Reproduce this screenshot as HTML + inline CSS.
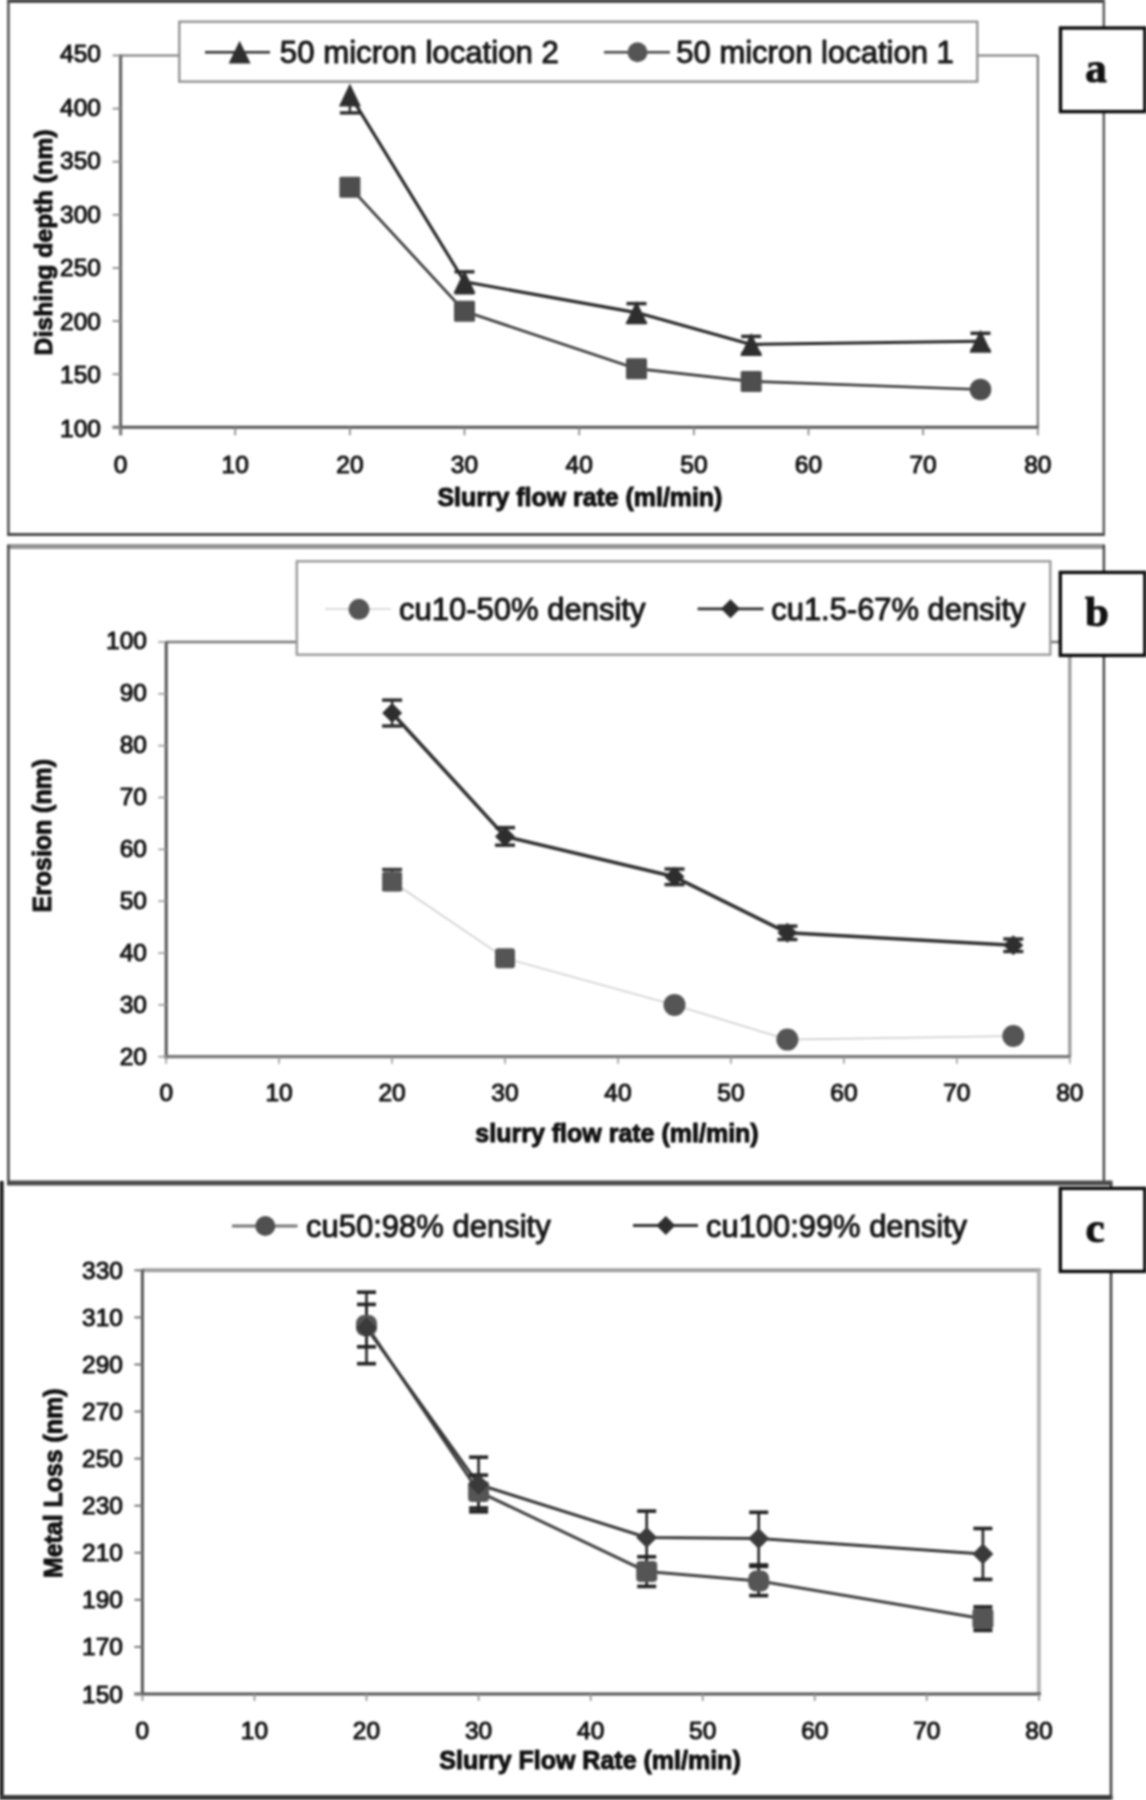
<!DOCTYPE html>
<html lang="en"><head><meta charset="utf-8"><title>Slurry flow rate charts</title>
<style>
html,body{margin:0;padding:0;background:#fff;}
body{width:1146px;height:1800px;overflow:hidden;}
svg{display:block;}
</style></head><body>
<svg width="1146" height="1800" viewBox="0 0 1146 1800">
<rect width="1146" height="1800" fill="#fff"/>
<g style="filter:blur(1px)">
<!-- panel a -->
<line x1="7.0" y1="1.0" x2="1105.0" y2="1.0" stroke="#333" stroke-width="3.5" />
<line x1="8.4" y1="0.0" x2="8.4" y2="535.5" stroke="#555" stroke-width="2.6" />
<line x1="7.0" y1="534.4" x2="1105.0" y2="534.4" stroke="#4a4a4a" stroke-width="3" />
<line x1="1103.8" y1="0.0" x2="1103.8" y2="535.5" stroke="#555" stroke-width="2.4" />
<line x1="120.6" y1="55.5" x2="1037.8" y2="55.5" stroke="#777" stroke-width="2.2" />
<line x1="1037.8" y1="55.5" x2="1037.8" y2="427.3" stroke="#777" stroke-width="2.2" />
<line x1="120.6" y1="54.5" x2="120.6" y2="435.3" stroke="#666" stroke-width="3.2" />
<line x1="112.6" y1="427.3" x2="1038.8" y2="427.3" stroke="#555" stroke-width="3" />
<line x1="112.6" y1="427.3" x2="120.6" y2="427.3" stroke="#8a8a8a" stroke-width="1.8" />
<text x="101.0" y="436.8" font-size="24.5" text-anchor="end" font-weight="normal" font-family='"Liberation Sans", Arial, Helvetica, sans-serif' fill="#111" stroke="#111" stroke-width="1.0" stroke-linejoin="round">100</text>
<line x1="112.6" y1="374.2" x2="120.6" y2="374.2" stroke="#8a8a8a" stroke-width="1.8" />
<text x="101.0" y="383.3" font-size="24.5" text-anchor="end" font-weight="normal" font-family='"Liberation Sans", Arial, Helvetica, sans-serif' fill="#111" stroke="#111" stroke-width="1.0" stroke-linejoin="round">150</text>
<line x1="112.6" y1="321.1" x2="120.6" y2="321.1" stroke="#8a8a8a" stroke-width="1.8" />
<text x="101.0" y="329.9" font-size="24.5" text-anchor="end" font-weight="normal" font-family='"Liberation Sans", Arial, Helvetica, sans-serif' fill="#111" stroke="#111" stroke-width="1.0" stroke-linejoin="round">200</text>
<line x1="112.6" y1="268.0" x2="120.6" y2="268.0" stroke="#8a8a8a" stroke-width="1.8" />
<text x="101.0" y="276.4" font-size="24.5" text-anchor="end" font-weight="normal" font-family='"Liberation Sans", Arial, Helvetica, sans-serif' fill="#111" stroke="#111" stroke-width="1.0" stroke-linejoin="round">250</text>
<line x1="112.6" y1="214.8" x2="120.6" y2="214.8" stroke="#8a8a8a" stroke-width="1.8" />
<text x="101.0" y="222.9" font-size="24.5" text-anchor="end" font-weight="normal" font-family='"Liberation Sans", Arial, Helvetica, sans-serif' fill="#111" stroke="#111" stroke-width="1.0" stroke-linejoin="round">300</text>
<line x1="112.6" y1="161.7" x2="120.6" y2="161.7" stroke="#8a8a8a" stroke-width="1.8" />
<text x="101.0" y="169.4" font-size="24.5" text-anchor="end" font-weight="normal" font-family='"Liberation Sans", Arial, Helvetica, sans-serif' fill="#111" stroke="#111" stroke-width="1.0" stroke-linejoin="round">350</text>
<line x1="112.6" y1="108.6" x2="120.6" y2="108.6" stroke="#8a8a8a" stroke-width="1.8" />
<text x="101.0" y="115.9" font-size="24.5" text-anchor="end" font-weight="normal" font-family='"Liberation Sans", Arial, Helvetica, sans-serif' fill="#111" stroke="#111" stroke-width="1.0" stroke-linejoin="round">400</text>
<line x1="112.6" y1="55.5" x2="120.6" y2="55.5" stroke="#8a8a8a" stroke-width="1.8" />
<text x="101.0" y="62.4" font-size="24.5" text-anchor="end" font-weight="normal" font-family='"Liberation Sans", Arial, Helvetica, sans-serif' fill="#111" stroke="#111" stroke-width="1.0" stroke-linejoin="round">450</text>
<line x1="120.6" y1="427.3" x2="120.6" y2="435.3" stroke="#8a8a8a" stroke-width="1.8" />
<text x="120.6" y="473.0" font-size="24.5" text-anchor="middle" font-weight="normal" font-family='"Liberation Sans", Arial, Helvetica, sans-serif' fill="#111" stroke="#111" stroke-width="1.0" stroke-linejoin="round">0</text>
<line x1="235.2" y1="427.3" x2="235.2" y2="435.3" stroke="#8a8a8a" stroke-width="1.8" />
<text x="235.2" y="473.0" font-size="24.5" text-anchor="middle" font-weight="normal" font-family='"Liberation Sans", Arial, Helvetica, sans-serif' fill="#111" stroke="#111" stroke-width="1.0" stroke-linejoin="round">10</text>
<line x1="349.9" y1="427.3" x2="349.9" y2="435.3" stroke="#8a8a8a" stroke-width="1.8" />
<text x="349.9" y="473.0" font-size="24.5" text-anchor="middle" font-weight="normal" font-family='"Liberation Sans", Arial, Helvetica, sans-serif' fill="#111" stroke="#111" stroke-width="1.0" stroke-linejoin="round">20</text>
<line x1="464.5" y1="427.3" x2="464.5" y2="435.3" stroke="#8a8a8a" stroke-width="1.8" />
<text x="464.5" y="473.0" font-size="24.5" text-anchor="middle" font-weight="normal" font-family='"Liberation Sans", Arial, Helvetica, sans-serif' fill="#111" stroke="#111" stroke-width="1.0" stroke-linejoin="round">30</text>
<line x1="579.2" y1="427.3" x2="579.2" y2="435.3" stroke="#8a8a8a" stroke-width="1.8" />
<text x="579.2" y="473.0" font-size="24.5" text-anchor="middle" font-weight="normal" font-family='"Liberation Sans", Arial, Helvetica, sans-serif' fill="#111" stroke="#111" stroke-width="1.0" stroke-linejoin="round">40</text>
<line x1="693.9" y1="427.3" x2="693.9" y2="435.3" stroke="#8a8a8a" stroke-width="1.8" />
<text x="693.9" y="473.0" font-size="24.5" text-anchor="middle" font-weight="normal" font-family='"Liberation Sans", Arial, Helvetica, sans-serif' fill="#111" stroke="#111" stroke-width="1.0" stroke-linejoin="round">50</text>
<line x1="808.5" y1="427.3" x2="808.5" y2="435.3" stroke="#8a8a8a" stroke-width="1.8" />
<text x="808.5" y="473.0" font-size="24.5" text-anchor="middle" font-weight="normal" font-family='"Liberation Sans", Arial, Helvetica, sans-serif' fill="#111" stroke="#111" stroke-width="1.0" stroke-linejoin="round">60</text>
<line x1="923.1" y1="427.3" x2="923.1" y2="435.3" stroke="#8a8a8a" stroke-width="1.8" />
<text x="923.1" y="473.0" font-size="24.5" text-anchor="middle" font-weight="normal" font-family='"Liberation Sans", Arial, Helvetica, sans-serif' fill="#111" stroke="#111" stroke-width="1.0" stroke-linejoin="round">70</text>
<line x1="1037.8" y1="427.3" x2="1037.8" y2="435.3" stroke="#8a8a8a" stroke-width="1.8" />
<text x="1037.8" y="473.0" font-size="24.5" text-anchor="middle" font-weight="normal" font-family='"Liberation Sans", Arial, Helvetica, sans-serif' fill="#111" stroke="#111" stroke-width="1.0" stroke-linejoin="round">80</text>
<text transform="translate(52.0,242.5) rotate(-90)" font-size="24.8" text-anchor="middle" font-weight="bold" font-family='"Liberation Sans", Arial, Helvetica, sans-serif' fill="#111" stroke="#111" stroke-width="1.0" stroke-linejoin="round">Dishing depth (nm)</text>
<text x="579.9" y="506.0" font-size="24.9" text-anchor="middle" font-weight="bold" font-family='"Liberation Sans", Arial, Helvetica, sans-serif' fill="#111" stroke="#111" stroke-width="1.0" stroke-linejoin="round">Slurry flow rate (ml/min)</text>
<polyline points="349.9,187.2 464.5,311.3 636.5,368.7 751.2,381.4 980.5,389.5" fill="none" stroke="#3a3a3a" stroke-width="2.7" stroke-linejoin="round"/>
<polyline points="349.9,94.9 464.5,281.8 636.5,312.6 751.2,344.4 980.5,341.3" fill="none" stroke="#262626" stroke-width="3.1" stroke-linejoin="round"/>
<line x1="349.9" y1="94.9" x2="349.9" y2="112.9" stroke="#2a2a2a" stroke-width="2.4" />
<line x1="339.9" y1="112.9" x2="359.9" y2="112.9" stroke="#2a2a2a" stroke-width="3.4" />
<line x1="464.5" y1="271.8" x2="464.5" y2="292.8" stroke="#2a2a2a" stroke-width="2.4" />
<line x1="454.5" y1="271.8" x2="474.5" y2="271.8" stroke="#2a2a2a" stroke-width="3.4" />
<line x1="454.5" y1="292.8" x2="474.5" y2="292.8" stroke="#2a2a2a" stroke-width="3.4" />
<line x1="636.5" y1="303.6" x2="636.5" y2="322.6" stroke="#2a2a2a" stroke-width="2.4" />
<line x1="626.5" y1="303.6" x2="646.5" y2="303.6" stroke="#2a2a2a" stroke-width="3.4" />
<line x1="626.5" y1="322.6" x2="646.5" y2="322.6" stroke="#2a2a2a" stroke-width="3.4" />
<line x1="751.2" y1="336.4" x2="751.2" y2="353.4" stroke="#2a2a2a" stroke-width="2.4" />
<line x1="741.2" y1="336.4" x2="761.2" y2="336.4" stroke="#2a2a2a" stroke-width="3.4" />
<line x1="741.2" y1="353.4" x2="761.2" y2="353.4" stroke="#2a2a2a" stroke-width="3.4" />
<line x1="980.5" y1="333.3" x2="980.5" y2="350.3" stroke="#2a2a2a" stroke-width="2.4" />
<line x1="970.5" y1="333.3" x2="990.5" y2="333.3" stroke="#2a2a2a" stroke-width="3.4" />
<line x1="970.5" y1="350.3" x2="990.5" y2="350.3" stroke="#2a2a2a" stroke-width="3.4" />
<rect x="339.4" y="176.7" width="21.0" height="21.0" fill="#4e4e4e" stroke="none" stroke-width="0" rx="1.5"/>
<rect x="454.0" y="300.8" width="21.0" height="21.0" fill="#4e4e4e" stroke="none" stroke-width="0" rx="1.5"/>
<rect x="626.0" y="358.2" width="21.0" height="21.0" fill="#4e4e4e" stroke="none" stroke-width="0" rx="1.5"/>
<rect x="740.7" y="370.9" width="21.0" height="21.0" fill="#4e4e4e" stroke="none" stroke-width="0" rx="1.5"/>
<circle cx="980.5" cy="389.5" r="10.8" fill="#4e4e4e"/>
<polygon points="349.9,83.5 360.9,106.4 338.9,106.4" fill="#2e2e2e"/>
<polygon points="464.5,270.3 475.5,293.2 453.5,293.2" fill="#2e2e2e"/>
<polygon points="636.5,301.1 647.5,324.0 625.5,324.0" fill="#2e2e2e"/>
<polygon points="751.2,333.0 762.2,355.9 740.2,355.9" fill="#2e2e2e"/>
<polygon points="980.5,329.8 991.5,352.7 969.5,352.7" fill="#2e2e2e"/>
<rect x="179.3" y="21.7" width="798.0" height="59.9" fill="#fff" stroke="#8a8a8a" stroke-width="2.2" rx="0"/>
<line x1="205.0" y1="52.2" x2="270.0" y2="52.2" stroke="#2e2e2e" stroke-width="2.6" />
<polygon points="239.6,40.8 250.6,63.6 228.6,63.6" fill="#2e2e2e"/>
<text x="279.8" y="62.9" font-size="31.2" text-anchor="start" font-weight="normal" font-family='"Liberation Sans", Arial, Helvetica, sans-serif' fill="#1c1c1c" stroke="#111" stroke-width="1.0" stroke-linejoin="round">50 micron location 2</text>
<line x1="604.0" y1="52.2" x2="670.0" y2="52.2" stroke="#444" stroke-width="2.6" />
<circle cx="637.5" cy="52.2" r="10" fill="#555"/>
<text x="676.3" y="62.9" font-size="31.0" text-anchor="start" font-weight="normal" font-family='"Liberation Sans", Arial, Helvetica, sans-serif' fill="#1c1c1c" stroke="#111" stroke-width="1.0" stroke-linejoin="round">50 micron location 1</text>
<rect x="1060.5" y="28.0" width="84.4" height="83.6" fill="#fff" stroke="#0a0a0a" stroke-width="3.4" rx="0"/>
<text x="1096.0" y="82.0" font-size="43" text-anchor="middle" font-weight="bold" font-family='"Liberation Serif", "Times New Roman", serif' fill="#111" stroke="#111" stroke-width="1.0" stroke-linejoin="round">a</text>
<!-- panel b -->
<line x1="7.0" y1="546.6" x2="1105.0" y2="546.6" stroke="#959595" stroke-width="5" />
<line x1="8.4" y1="545.0" x2="8.4" y2="1183.0" stroke="#4a4a4a" stroke-width="2.6" />
<line x1="1103.9" y1="545.0" x2="1103.9" y2="1183.0" stroke="#444" stroke-width="2.4" />
<line x1="7.0" y1="1183.0" x2="1112.5" y2="1183.0" stroke="#4a4a4a" stroke-width="5" />
<line x1="166.2" y1="642.0" x2="1069.8" y2="642.0" stroke="#777" stroke-width="2.4" />
<line x1="1069.8" y1="642.0" x2="1069.8" y2="1056.7" stroke="#999" stroke-width="3.2" />
<line x1="166.2" y1="641.0" x2="166.2" y2="1058.7" stroke="#555" stroke-width="3" />
<line x1="164.2" y1="1056.7" x2="1070.8" y2="1056.7" stroke="#777" stroke-width="3.2" />
<line x1="158.2" y1="1056.7" x2="166.2" y2="1056.7" stroke="#999" stroke-width="1.6" />
<text x="147.0" y="1065.3" font-size="24.5" text-anchor="end" font-weight="normal" font-family='"Liberation Sans", Arial, Helvetica, sans-serif' fill="#111" stroke="#111" stroke-width="1.0" stroke-linejoin="round">20</text>
<line x1="158.2" y1="1004.9" x2="166.2" y2="1004.9" stroke="#999" stroke-width="1.6" />
<text x="147.0" y="1013.3" font-size="24.5" text-anchor="end" font-weight="normal" font-family='"Liberation Sans", Arial, Helvetica, sans-serif' fill="#111" stroke="#111" stroke-width="1.0" stroke-linejoin="round">30</text>
<line x1="158.2" y1="953.0" x2="166.2" y2="953.0" stroke="#999" stroke-width="1.6" />
<text x="147.0" y="961.2" font-size="24.5" text-anchor="end" font-weight="normal" font-family='"Liberation Sans", Arial, Helvetica, sans-serif' fill="#111" stroke="#111" stroke-width="1.0" stroke-linejoin="round">40</text>
<line x1="158.2" y1="901.2" x2="166.2" y2="901.2" stroke="#999" stroke-width="1.6" />
<text x="147.0" y="909.2" font-size="24.5" text-anchor="end" font-weight="normal" font-family='"Liberation Sans", Arial, Helvetica, sans-serif' fill="#111" stroke="#111" stroke-width="1.0" stroke-linejoin="round">50</text>
<line x1="158.2" y1="849.4" x2="166.2" y2="849.4" stroke="#999" stroke-width="1.6" />
<text x="147.0" y="857.2" font-size="24.5" text-anchor="end" font-weight="normal" font-family='"Liberation Sans", Arial, Helvetica, sans-serif' fill="#111" stroke="#111" stroke-width="1.0" stroke-linejoin="round">60</text>
<line x1="158.2" y1="797.5" x2="166.2" y2="797.5" stroke="#999" stroke-width="1.6" />
<text x="147.0" y="805.2" font-size="24.5" text-anchor="end" font-weight="normal" font-family='"Liberation Sans", Arial, Helvetica, sans-serif' fill="#111" stroke="#111" stroke-width="1.0" stroke-linejoin="round">70</text>
<line x1="158.2" y1="745.7" x2="166.2" y2="745.7" stroke="#999" stroke-width="1.6" />
<text x="147.0" y="753.1" font-size="24.5" text-anchor="end" font-weight="normal" font-family='"Liberation Sans", Arial, Helvetica, sans-serif' fill="#111" stroke="#111" stroke-width="1.0" stroke-linejoin="round">80</text>
<line x1="158.2" y1="693.8" x2="166.2" y2="693.8" stroke="#999" stroke-width="1.6" />
<text x="147.0" y="701.1" font-size="24.5" text-anchor="end" font-weight="normal" font-family='"Liberation Sans", Arial, Helvetica, sans-serif' fill="#111" stroke="#111" stroke-width="1.0" stroke-linejoin="round">90</text>
<line x1="158.2" y1="642.0" x2="166.2" y2="642.0" stroke="#999" stroke-width="1.6" />
<text x="147.0" y="649.1" font-size="24.5" text-anchor="end" font-weight="normal" font-family='"Liberation Sans", Arial, Helvetica, sans-serif' fill="#111" stroke="#111" stroke-width="1.0" stroke-linejoin="round">100</text>
<line x1="166.2" y1="1056.7" x2="166.2" y2="1063.7" stroke="#999" stroke-width="1.6" />
<text x="166.2" y="1100.5" font-size="24.5" text-anchor="middle" font-weight="normal" font-family='"Liberation Sans", Arial, Helvetica, sans-serif' fill="#111" stroke="#111" stroke-width="1.0" stroke-linejoin="round">0</text>
<line x1="279.1" y1="1056.7" x2="279.1" y2="1063.7" stroke="#999" stroke-width="1.6" />
<text x="279.1" y="1100.5" font-size="24.5" text-anchor="middle" font-weight="normal" font-family='"Liberation Sans", Arial, Helvetica, sans-serif' fill="#111" stroke="#111" stroke-width="1.0" stroke-linejoin="round">10</text>
<line x1="392.1" y1="1056.7" x2="392.1" y2="1063.7" stroke="#999" stroke-width="1.6" />
<text x="392.1" y="1100.5" font-size="24.5" text-anchor="middle" font-weight="normal" font-family='"Liberation Sans", Arial, Helvetica, sans-serif' fill="#111" stroke="#111" stroke-width="1.0" stroke-linejoin="round">20</text>
<line x1="505.0" y1="1056.7" x2="505.0" y2="1063.7" stroke="#999" stroke-width="1.6" />
<text x="505.0" y="1100.5" font-size="24.5" text-anchor="middle" font-weight="normal" font-family='"Liberation Sans", Arial, Helvetica, sans-serif' fill="#111" stroke="#111" stroke-width="1.0" stroke-linejoin="round">30</text>
<line x1="618.0" y1="1056.7" x2="618.0" y2="1063.7" stroke="#999" stroke-width="1.6" />
<text x="618.0" y="1100.5" font-size="24.5" text-anchor="middle" font-weight="normal" font-family='"Liberation Sans", Arial, Helvetica, sans-serif' fill="#111" stroke="#111" stroke-width="1.0" stroke-linejoin="round">40</text>
<line x1="730.9" y1="1056.7" x2="730.9" y2="1063.7" stroke="#999" stroke-width="1.6" />
<text x="730.9" y="1100.5" font-size="24.5" text-anchor="middle" font-weight="normal" font-family='"Liberation Sans", Arial, Helvetica, sans-serif' fill="#111" stroke="#111" stroke-width="1.0" stroke-linejoin="round">50</text>
<line x1="843.9" y1="1056.7" x2="843.9" y2="1063.7" stroke="#999" stroke-width="1.6" />
<text x="843.9" y="1100.5" font-size="24.5" text-anchor="middle" font-weight="normal" font-family='"Liberation Sans", Arial, Helvetica, sans-serif' fill="#111" stroke="#111" stroke-width="1.0" stroke-linejoin="round">60</text>
<line x1="956.8" y1="1056.7" x2="956.8" y2="1063.7" stroke="#999" stroke-width="1.6" />
<text x="956.8" y="1100.5" font-size="24.5" text-anchor="middle" font-weight="normal" font-family='"Liberation Sans", Arial, Helvetica, sans-serif' fill="#111" stroke="#111" stroke-width="1.0" stroke-linejoin="round">70</text>
<line x1="1069.8" y1="1056.7" x2="1069.8" y2="1063.7" stroke="#999" stroke-width="1.6" />
<text x="1069.8" y="1100.5" font-size="24.5" text-anchor="middle" font-weight="normal" font-family='"Liberation Sans", Arial, Helvetica, sans-serif' fill="#111" stroke="#111" stroke-width="1.0" stroke-linejoin="round">80</text>
<text transform="translate(50.5,835.7) rotate(-90)" font-size="24.9" text-anchor="middle" font-weight="bold" font-family='"Liberation Sans", Arial, Helvetica, sans-serif' fill="#111" stroke="#111" stroke-width="1.0" stroke-linejoin="round">Erosion (nm)</text>
<text x="617.0" y="1142.3" font-size="25.0" text-anchor="middle" font-weight="bold" font-family='"Liberation Sans", Arial, Helvetica, sans-serif' fill="#111" stroke="#111" stroke-width="1.0" stroke-linejoin="round">slurry flow rate (ml/min)</text>
<polyline points="392.1,881.5 505.0,958.2 674.5,1004.9 787.4,1039.6 1013.3,1036.0" fill="none" stroke="#cfcfcf" stroke-width="1.6" stroke-linejoin="round"/>
<polyline points="392.1,713.0 505.0,836.4 674.5,876.8 787.4,932.8 1013.3,945.2" fill="none" stroke="#2e2e2e" stroke-width="3.6" stroke-linejoin="round"/>
<line x1="392.1" y1="726.0" x2="392.1" y2="700.1" stroke="#2a2a2a" stroke-width="2.4" />
<line x1="382.1" y1="726.0" x2="402.1" y2="726.0" stroke="#2a2a2a" stroke-width="3.4" />
<line x1="382.1" y1="700.1" x2="402.1" y2="700.1" stroke="#2a2a2a" stroke-width="3.4" />
<line x1="505.0" y1="845.2" x2="505.0" y2="827.6" stroke="#2a2a2a" stroke-width="2.4" />
<line x1="495.0" y1="845.2" x2="515.0" y2="845.2" stroke="#2a2a2a" stroke-width="3.4" />
<line x1="495.0" y1="827.6" x2="515.0" y2="827.6" stroke="#2a2a2a" stroke-width="3.4" />
<line x1="674.5" y1="884.6" x2="674.5" y2="869.0" stroke="#2a2a2a" stroke-width="2.4" />
<line x1="664.5" y1="884.6" x2="684.5" y2="884.6" stroke="#2a2a2a" stroke-width="3.4" />
<line x1="664.5" y1="869.0" x2="684.5" y2="869.0" stroke="#2a2a2a" stroke-width="3.4" />
<line x1="787.4" y1="939.5" x2="787.4" y2="926.1" stroke="#2a2a2a" stroke-width="2.4" />
<line x1="777.4" y1="939.5" x2="797.4" y2="939.5" stroke="#2a2a2a" stroke-width="3.4" />
<line x1="777.4" y1="926.1" x2="797.4" y2="926.1" stroke="#2a2a2a" stroke-width="3.4" />
<line x1="1013.3" y1="951.5" x2="1013.3" y2="939.0" stroke="#2a2a2a" stroke-width="2.4" />
<line x1="1003.3" y1="951.5" x2="1023.3" y2="951.5" stroke="#2a2a2a" stroke-width="3.4" />
<line x1="1003.3" y1="939.0" x2="1023.3" y2="939.0" stroke="#2a2a2a" stroke-width="3.4" />
<line x1="392.1" y1="869.5" x2="392.1" y2="889.5" stroke="#3a3a3a" stroke-width="2.4" />
<line x1="382.1" y1="869.5" x2="402.1" y2="869.5" stroke="#3a3a3a" stroke-width="3.4" />
<line x1="382.1" y1="889.5" x2="402.1" y2="889.5" stroke="#3a3a3a" stroke-width="3.4" />
<rect x="382.1" y="871.5" width="20.0" height="20.0" fill="#555" stroke="none" stroke-width="0" rx="3"/>
<rect x="495.0" y="948.2" width="20.0" height="20.0" fill="#555" stroke="none" stroke-width="0" rx="3"/>
<circle cx="674.5" cy="1004.9" r="11" fill="#555"/>
<circle cx="787.4" cy="1039.6" r="11" fill="#555"/>
<circle cx="1013.3" cy="1036.0" r="11" fill="#555"/>
<polygon points="392.1,703.0 402.1,713.0 392.1,723.0 382.1,713.0" fill="#2e2e2e"/>
<polygon points="505.0,826.4 515.0,836.4 505.0,846.4 495.0,836.4" fill="#2e2e2e"/>
<polygon points="674.5,866.8 684.5,876.8 674.5,886.8 664.5,876.8" fill="#2e2e2e"/>
<polygon points="787.4,922.8 797.4,932.8 787.4,942.8 777.4,932.8" fill="#2e2e2e"/>
<polygon points="1013.3,935.2 1023.3,945.2 1013.3,955.2 1003.3,945.2" fill="#2e2e2e"/>
<rect x="296.8" y="561.3" width="753.5" height="93.4" fill="#fff" stroke="#9a9a9a" stroke-width="2.4" rx="0"/>
<line x1="325.0" y1="609.0" x2="391.0" y2="609.0" stroke="#dcdcdc" stroke-width="2" />
<circle cx="359.0" cy="609.3" r="10.5" fill="#555"/>
<text x="399.0" y="619.6" font-size="31.0" text-anchor="start" font-weight="normal" font-family='"Liberation Sans", Arial, Helvetica, sans-serif' fill="#1c1c1c" stroke="#111" stroke-width="1.0" stroke-linejoin="round">cu10-50% density</text>
<line x1="697.6" y1="608.8" x2="763.5" y2="608.8" stroke="#2e2e2e" stroke-width="2.8" />
<polygon points="730.5,599.3 740.0,608.8 730.5,618.3 721.0,608.8" fill="#2e2e2e"/>
<text x="771.3" y="619.6" font-size="30.9" text-anchor="start" font-weight="normal" font-family='"Liberation Sans", Arial, Helvetica, sans-serif' fill="#1c1c1c" stroke="#111" stroke-width="1.0" stroke-linejoin="round">cu1.5-67% density</text>
<rect x="1060.3" y="572.4" width="84.6" height="83.0" fill="#fff" stroke="#0a0a0a" stroke-width="3.4" rx="0"/>
<text x="1097.0" y="626.0" font-size="43" text-anchor="middle" font-weight="bold" font-family='"Liberation Serif", "Times New Roman", serif' fill="#111" stroke="#111" stroke-width="1.0" stroke-linejoin="round">b</text>
<!-- panel c -->
<line x1="1.6" y1="1181.0" x2="1.6" y2="1800.0" stroke="#222" stroke-width="4.2" />
<line x1="0.0" y1="1797.5" x2="1112.5" y2="1797.5" stroke="#3a3a3a" stroke-width="5" />
<line x1="1111.0" y1="1183.0" x2="1111.0" y2="1800.0" stroke="#444" stroke-width="2.6" />
<line x1="142.4" y1="1270.3" x2="1040.9" y2="1270.3" stroke="#a0a0a0" stroke-width="4" />
<line x1="1038.9" y1="1270.3" x2="1038.9" y2="1694.0" stroke="#b8b8b8" stroke-width="4" />
<line x1="142.4" y1="1269.3" x2="142.4" y2="1696.0" stroke="#555" stroke-width="3" />
<line x1="134.4" y1="1694.0" x2="1040.9" y2="1694.0" stroke="#555" stroke-width="3" />
<line x1="134.4" y1="1694.0" x2="142.4" y2="1694.0" stroke="#777" stroke-width="2" />
<text x="123.0" y="1702.5" font-size="24.5" text-anchor="end" font-weight="normal" font-family='"Liberation Sans", Arial, Helvetica, sans-serif' fill="#111" stroke="#111" stroke-width="1.0" stroke-linejoin="round">150</text>
<line x1="134.4" y1="1646.9" x2="142.4" y2="1646.9" stroke="#777" stroke-width="2" />
<text x="123.0" y="1655.4" font-size="24.5" text-anchor="end" font-weight="normal" font-family='"Liberation Sans", Arial, Helvetica, sans-serif' fill="#111" stroke="#111" stroke-width="1.0" stroke-linejoin="round">170</text>
<line x1="134.4" y1="1599.8" x2="142.4" y2="1599.8" stroke="#777" stroke-width="2" />
<text x="123.0" y="1608.3" font-size="24.5" text-anchor="end" font-weight="normal" font-family='"Liberation Sans", Arial, Helvetica, sans-serif' fill="#111" stroke="#111" stroke-width="1.0" stroke-linejoin="round">190</text>
<line x1="134.4" y1="1552.8" x2="142.4" y2="1552.8" stroke="#777" stroke-width="2" />
<text x="123.0" y="1561.3" font-size="24.5" text-anchor="end" font-weight="normal" font-family='"Liberation Sans", Arial, Helvetica, sans-serif' fill="#111" stroke="#111" stroke-width="1.0" stroke-linejoin="round">210</text>
<line x1="134.4" y1="1505.7" x2="142.4" y2="1505.7" stroke="#777" stroke-width="2" />
<text x="123.0" y="1514.2" font-size="24.5" text-anchor="end" font-weight="normal" font-family='"Liberation Sans", Arial, Helvetica, sans-serif' fill="#111" stroke="#111" stroke-width="1.0" stroke-linejoin="round">230</text>
<line x1="134.4" y1="1458.6" x2="142.4" y2="1458.6" stroke="#777" stroke-width="2" />
<text x="123.0" y="1467.1" font-size="24.5" text-anchor="end" font-weight="normal" font-family='"Liberation Sans", Arial, Helvetica, sans-serif' fill="#111" stroke="#111" stroke-width="1.0" stroke-linejoin="round">250</text>
<line x1="134.4" y1="1411.5" x2="142.4" y2="1411.5" stroke="#777" stroke-width="2" />
<text x="123.0" y="1420.0" font-size="24.5" text-anchor="end" font-weight="normal" font-family='"Liberation Sans", Arial, Helvetica, sans-serif' fill="#111" stroke="#111" stroke-width="1.0" stroke-linejoin="round">270</text>
<line x1="134.4" y1="1364.5" x2="142.4" y2="1364.5" stroke="#777" stroke-width="2" />
<text x="123.0" y="1373.0" font-size="24.5" text-anchor="end" font-weight="normal" font-family='"Liberation Sans", Arial, Helvetica, sans-serif' fill="#111" stroke="#111" stroke-width="1.0" stroke-linejoin="round">290</text>
<line x1="134.4" y1="1317.4" x2="142.4" y2="1317.4" stroke="#777" stroke-width="2" />
<text x="123.0" y="1325.9" font-size="24.5" text-anchor="end" font-weight="normal" font-family='"Liberation Sans", Arial, Helvetica, sans-serif' fill="#111" stroke="#111" stroke-width="1.0" stroke-linejoin="round">310</text>
<line x1="134.4" y1="1270.3" x2="142.4" y2="1270.3" stroke="#777" stroke-width="2" />
<text x="123.0" y="1278.8" font-size="24.5" text-anchor="end" font-weight="normal" font-family='"Liberation Sans", Arial, Helvetica, sans-serif' fill="#111" stroke="#111" stroke-width="1.0" stroke-linejoin="round">330</text>
<line x1="142.4" y1="1694.0" x2="142.4" y2="1701.0" stroke="#999" stroke-width="1.8" />
<text x="142.4" y="1738.5" font-size="24.5" text-anchor="middle" font-weight="normal" font-family='"Liberation Sans", Arial, Helvetica, sans-serif' fill="#111" stroke="#111" stroke-width="1.0" stroke-linejoin="round">0</text>
<line x1="254.5" y1="1694.0" x2="254.5" y2="1701.0" stroke="#999" stroke-width="1.8" />
<text x="254.5" y="1738.5" font-size="24.5" text-anchor="middle" font-weight="normal" font-family='"Liberation Sans", Arial, Helvetica, sans-serif' fill="#111" stroke="#111" stroke-width="1.0" stroke-linejoin="round">10</text>
<line x1="366.5" y1="1694.0" x2="366.5" y2="1701.0" stroke="#999" stroke-width="1.8" />
<text x="366.5" y="1738.5" font-size="24.5" text-anchor="middle" font-weight="normal" font-family='"Liberation Sans", Arial, Helvetica, sans-serif' fill="#111" stroke="#111" stroke-width="1.0" stroke-linejoin="round">20</text>
<line x1="478.6" y1="1694.0" x2="478.6" y2="1701.0" stroke="#999" stroke-width="1.8" />
<text x="478.6" y="1738.5" font-size="24.5" text-anchor="middle" font-weight="normal" font-family='"Liberation Sans", Arial, Helvetica, sans-serif' fill="#111" stroke="#111" stroke-width="1.0" stroke-linejoin="round">30</text>
<line x1="590.7" y1="1694.0" x2="590.7" y2="1701.0" stroke="#999" stroke-width="1.8" />
<text x="590.7" y="1738.5" font-size="24.5" text-anchor="middle" font-weight="normal" font-family='"Liberation Sans", Arial, Helvetica, sans-serif' fill="#111" stroke="#111" stroke-width="1.0" stroke-linejoin="round">40</text>
<line x1="702.7" y1="1694.0" x2="702.7" y2="1701.0" stroke="#999" stroke-width="1.8" />
<text x="702.7" y="1738.5" font-size="24.5" text-anchor="middle" font-weight="normal" font-family='"Liberation Sans", Arial, Helvetica, sans-serif' fill="#111" stroke="#111" stroke-width="1.0" stroke-linejoin="round">50</text>
<line x1="814.8" y1="1694.0" x2="814.8" y2="1701.0" stroke="#999" stroke-width="1.8" />
<text x="814.8" y="1738.5" font-size="24.5" text-anchor="middle" font-weight="normal" font-family='"Liberation Sans", Arial, Helvetica, sans-serif' fill="#111" stroke="#111" stroke-width="1.0" stroke-linejoin="round">60</text>
<line x1="926.8" y1="1694.0" x2="926.8" y2="1701.0" stroke="#999" stroke-width="1.8" />
<text x="926.8" y="1738.5" font-size="24.5" text-anchor="middle" font-weight="normal" font-family='"Liberation Sans", Arial, Helvetica, sans-serif' fill="#111" stroke="#111" stroke-width="1.0" stroke-linejoin="round">70</text>
<line x1="1038.9" y1="1694.0" x2="1038.9" y2="1701.0" stroke="#999" stroke-width="1.8" />
<text x="1038.9" y="1738.5" font-size="24.5" text-anchor="middle" font-weight="normal" font-family='"Liberation Sans", Arial, Helvetica, sans-serif' fill="#111" stroke="#111" stroke-width="1.0" stroke-linejoin="round">80</text>
<text transform="translate(62.0,1483.3) rotate(-90)" font-size="24.9" text-anchor="middle" font-weight="bold" font-family='"Liberation Sans", Arial, Helvetica, sans-serif' fill="#111" stroke="#111" stroke-width="1.0" stroke-linejoin="round">Metal Loss (nm)</text>
<text x="590.0" y="1768.5" font-size="25.0" text-anchor="middle" font-weight="bold" font-family='"Liberation Sans", Arial, Helvetica, sans-serif' fill="#111" stroke="#111" stroke-width="1.0" stroke-linejoin="round">Slurry Flow Rate (ml/min)</text>
<polyline points="366.5,1325.6 478.6,1491.6 646.7,1571.6 758.7,1581.0 982.9,1618.7" fill="none" stroke="#404040" stroke-width="3.0" stroke-linejoin="round"/>
<polyline points="366.5,1328.0 478.6,1484.5 646.7,1537.5 758.7,1538.6 982.9,1553.9" fill="none" stroke="#363636" stroke-width="3.0" stroke-linejoin="round"/>
<line x1="366.5" y1="1292.2" x2="366.5" y2="1363.7" stroke="#222" stroke-width="2.6" />
<line x1="357.0" y1="1292.2" x2="376.0" y2="1292.2" stroke="#222" stroke-width="3.6" />
<line x1="357.0" y1="1363.7" x2="376.0" y2="1363.7" stroke="#222" stroke-width="3.6" />
<line x1="478.6" y1="1457.2" x2="478.6" y2="1511.8" stroke="#222" stroke-width="2.6" />
<line x1="469.1" y1="1457.2" x2="488.1" y2="1457.2" stroke="#222" stroke-width="3.6" />
<line x1="469.1" y1="1511.8" x2="488.1" y2="1511.8" stroke="#222" stroke-width="3.6" />
<line x1="646.7" y1="1511.1" x2="646.7" y2="1563.8" stroke="#222" stroke-width="2.6" />
<line x1="637.2" y1="1511.1" x2="656.2" y2="1511.1" stroke="#222" stroke-width="3.6" />
<line x1="637.2" y1="1563.8" x2="656.2" y2="1563.8" stroke="#222" stroke-width="3.6" />
<line x1="758.7" y1="1512.3" x2="758.7" y2="1565.0" stroke="#222" stroke-width="2.6" />
<line x1="749.2" y1="1512.3" x2="768.2" y2="1512.3" stroke="#222" stroke-width="3.6" />
<line x1="749.2" y1="1565.0" x2="768.2" y2="1565.0" stroke="#222" stroke-width="3.6" />
<line x1="982.9" y1="1528.5" x2="982.9" y2="1579.4" stroke="#222" stroke-width="2.6" />
<line x1="973.4" y1="1528.5" x2="992.4" y2="1528.5" stroke="#222" stroke-width="3.6" />
<line x1="973.4" y1="1579.4" x2="992.4" y2="1579.4" stroke="#222" stroke-width="3.6" />
<line x1="366.5" y1="1304.4" x2="366.5" y2="1346.8" stroke="#222" stroke-width="2.6" />
<line x1="357.0" y1="1304.4" x2="376.0" y2="1304.4" stroke="#222" stroke-width="3.6" />
<line x1="357.0" y1="1346.8" x2="376.0" y2="1346.8" stroke="#222" stroke-width="3.6" />
<line x1="478.6" y1="1475.1" x2="478.6" y2="1508.0" stroke="#222" stroke-width="2.6" />
<line x1="469.1" y1="1475.1" x2="488.1" y2="1475.1" stroke="#222" stroke-width="3.6" />
<line x1="469.1" y1="1508.0" x2="488.1" y2="1508.0" stroke="#222" stroke-width="3.6" />
<line x1="646.7" y1="1556.8" x2="646.7" y2="1586.4" stroke="#222" stroke-width="2.6" />
<line x1="637.2" y1="1556.8" x2="656.2" y2="1556.8" stroke="#222" stroke-width="3.6" />
<line x1="637.2" y1="1586.4" x2="656.2" y2="1586.4" stroke="#222" stroke-width="3.6" />
<line x1="758.7" y1="1566.4" x2="758.7" y2="1595.6" stroke="#222" stroke-width="2.6" />
<line x1="749.2" y1="1566.4" x2="768.2" y2="1566.4" stroke="#222" stroke-width="3.6" />
<line x1="749.2" y1="1595.6" x2="768.2" y2="1595.6" stroke="#222" stroke-width="3.6" />
<line x1="982.9" y1="1606.9" x2="982.9" y2="1630.4" stroke="#222" stroke-width="2.6" />
<line x1="973.4" y1="1606.9" x2="992.4" y2="1606.9" stroke="#222" stroke-width="3.6" />
<line x1="973.4" y1="1630.4" x2="992.4" y2="1630.4" stroke="#222" stroke-width="3.6" />
<rect x="356.0" y="1315.1" width="21.0" height="21.0" fill="#555" stroke="none" stroke-width="0" rx="8"/>
<rect x="468.1" y="1481.1" width="21.0" height="21.0" fill="#555" stroke="none" stroke-width="0" rx="4"/>
<rect x="636.2" y="1561.1" width="21.0" height="21.0" fill="#555" stroke="none" stroke-width="0" rx="4"/>
<rect x="748.2" y="1570.5" width="21.0" height="21.0" fill="#555" stroke="none" stroke-width="0" rx="8"/>
<rect x="972.4" y="1608.2" width="21.0" height="21.0" fill="#555" stroke="none" stroke-width="0" rx="4"/>
<polygon points="366.5,1317.5 377.0,1328.0 366.5,1338.5 356.0,1328.0" fill="#3a3a3a"/>
<polygon points="478.6,1474.0 489.1,1484.5 478.6,1495.0 468.1,1484.5" fill="#3a3a3a"/>
<polygon points="646.7,1527.0 657.2,1537.5 646.7,1548.0 636.2,1537.5" fill="#3a3a3a"/>
<polygon points="758.7,1528.1 769.2,1538.6 758.7,1549.1 748.2,1538.6" fill="#3a3a3a"/>
<polygon points="982.9,1543.4 993.4,1553.9 982.9,1564.4 972.4,1553.9" fill="#3a3a3a"/>
<line x1="232.0" y1="1226.0" x2="297.5" y2="1226.0" stroke="#777" stroke-width="3" />
<circle cx="265.3" cy="1226.0" r="10" fill="#505050"/>
<text x="306.0" y="1237.4" font-size="31.0" text-anchor="start" font-weight="normal" font-family='"Liberation Sans", Arial, Helvetica, sans-serif' fill="#1c1c1c" stroke="#111" stroke-width="1.0" stroke-linejoin="round">cu50:98% density</text>
<line x1="633.0" y1="1225.6" x2="698.0" y2="1225.6" stroke="#333" stroke-width="3" />
<polygon points="665.8,1216.1 675.3,1225.6 665.8,1235.1 656.3,1225.6" fill="#2e2e2e"/>
<text x="706.0" y="1237.4" font-size="30.9" text-anchor="start" font-weight="normal" font-family='"Liberation Sans", Arial, Helvetica, sans-serif' fill="#1c1c1c" stroke="#111" stroke-width="1.0" stroke-linejoin="round">cu100:99% density</text>
<rect x="1060.3" y="1188.4" width="84.6" height="83.0" fill="#fff" stroke="#0a0a0a" stroke-width="3.4" rx="0"/>
<text x="1095.0" y="1242.0" font-size="43" text-anchor="middle" font-weight="bold" font-family='"Liberation Serif", "Times New Roman", serif' fill="#111" stroke="#111" stroke-width="1.0" stroke-linejoin="round">c</text>
</g></svg></body></html>
